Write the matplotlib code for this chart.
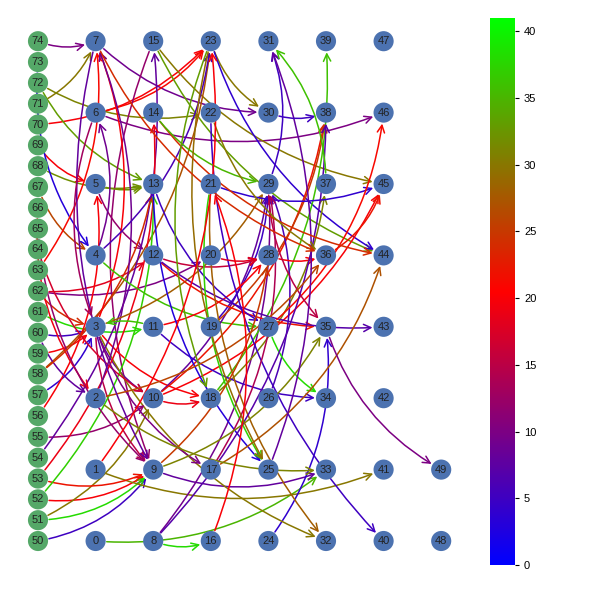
import matplotlib
matplotlib.use("Agg")
import matplotlib.pyplot as plt
import numpy as np

# edges: (source, target, weight)
edges = [(74,7,10),(71,7,30),(70,23,20),(72,22,31),(72,13,33),(69,5,20),(68,13,32),(67,4,26),
(73,4,3),(7,30,9),(6,46,10),(6,23,21),(15,45,30),(15,44,33),(23,30,30),(23,44,4),(15,9,12),
(5,12,12),(5,13,32),(50,9,5),(52,9,20),(51,10,30),(51,9,38),(0,33,35),(1,41,30),(9,33,8),
(8,29,9),(8,16,38),(24,35,4),(3,10,8),(3,18,20),(3,9,15),(3,32,30),(60,3,5),(62,3,24),(59,3,20),
(61,11,38),(62,20,10),(62,12,18),(58,23,27),(57,3,4),(56,5,20),(55,10,12),(54,15,8),(53,14,19),
(53,9,22),(52,13,37),(60,2,8),(66,2,19),(65,9,12),(64,10,17),(63,7,21),(58,13,24),(3,7,20),
(2,7,9),(4,6,9),(4,23,6),(4,27,36),(3,17,10),(3,29,28),(10,18,19),(10,29,8),(10,38,22),(10,45,20),
(18,39,36),(18,37,31),(19,38,25),(19,29,5),(11,28,20),(11,34,5),(12,35,22),(12,43,7),(12,28,16),
(13,27,5),(13,25,3),(21,45,4),(21,32,28),(21,25,37),(22,40,5),(20,28,18),(26,29,6),(27,46,21),
(27,34,38),(28,36,20),(29,31,5),(29,35,15),(17,44,27),(17,29,14),(9,35,31),(9,28,25),(8,38,7),
(2,33,31),(2,36,26),(35,49,10),(36,45,22),(25,31,8),(14,44,24),(14,29,35),(16,21,20),(22,36,30),
(30,38,5),(37,31,36),(23,18,33),(23,25,29),(7,36,24),(7,9,8),(6,3,13),(11,3,36),(1,23,20)]
blue_nodes = list(range(50))
green_nodes = list(range(50, 75))

def pos(n):
    if n < 50:
        return (n // 8 + 1, n % 8)
    return (0, (n - 50) * 7 / 24)

plt.rcParams['font.family'] = ['Liberation Sans', 'DejaVu Sans']
fig = plt.figure(figsize=(5.9, 5.9), dpi=100)
ax = fig.add_axes([0, 0, 1, 1])
ax.set_xlim(-38/57.6, (590-38)/57.6)
ax.set_ylim(-49/71.4, 541/71.4)
ax.axis("off")

cmap = plt.get_cmap("brg")
norm = matplotlib.colors.Normalize(0, 41)
for s, t, w in edges:
    ax.annotate("", xy=pos(t), xytext=pos(s),
                arrowprops=dict(arrowstyle="->", color=cmap(norm(w)), lw=1.1,
                                shrinkA=8, shrinkB=8, mutation_scale=13,
                                connectionstyle="arc3,rad=0.2"), zorder=1)

for group, col in ((blue_nodes, "#4c72b0"), (green_nodes, "#55a868")):
    xs = [pos(n)[0] for n in group]
    ys = [pos(n)[1] for n in group]
    ax.scatter(xs, ys, s=210, c=col, zorder=3, edgecolors="none")
    for n, x, y in zip(group, xs, ys):
        ax.text(x, y, str(n), ha="center", va="center", fontsize=8, color="#222222", zorder=4)

cax = fig.add_axes([490/590, 25/590, 25/590, 547/590])
sm = matplotlib.cm.ScalarMappable(norm=norm, cmap=cmap)
cb = fig.colorbar(sm, cax=cax, ticks=range(0, 41, 5))
cb.outline.set_visible(False)
cax.tick_params(labelsize=8, length=3)
fig.savefig("out.png", dpi=100)
